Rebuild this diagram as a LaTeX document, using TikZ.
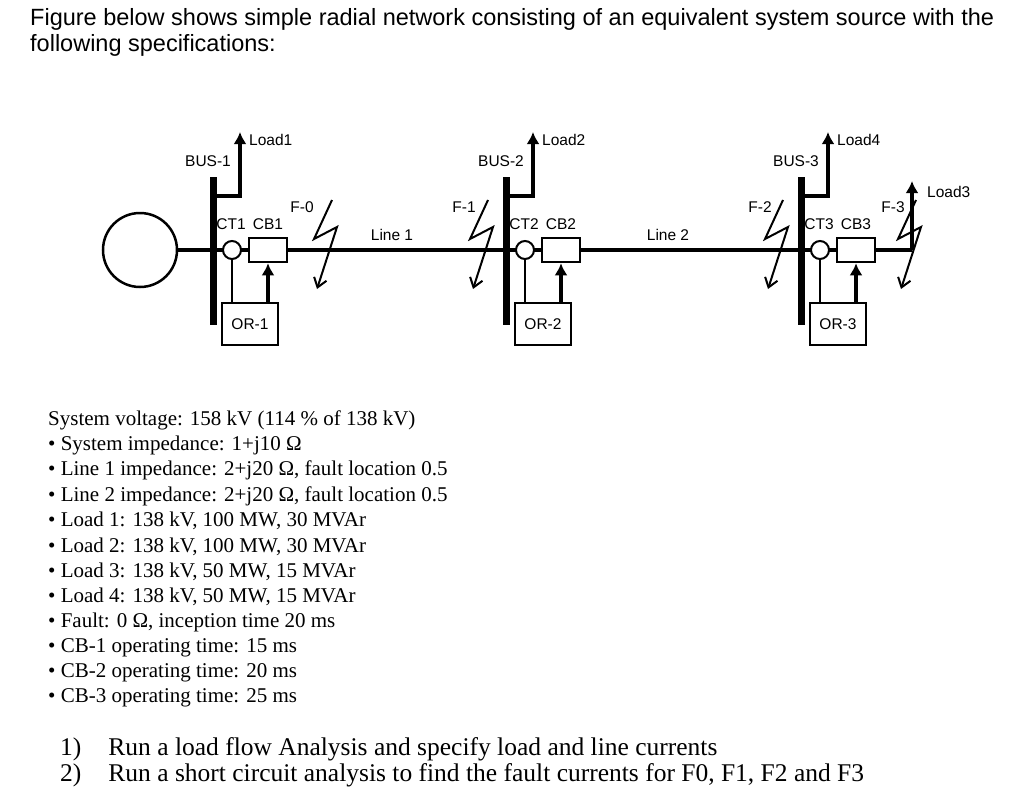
\documentclass[tikz,border=0pt]{standalone}
\usetikzlibrary{arrows.meta}
\usepackage{fontspec}
\setmainfont{Liberation Serif}
\newfontfamily\sans{Liberation Sans}
\begin{document}
\begin{tikzpicture}[x=1pt,y=-1pt,
  wire/.style={line width=3.5pt},
  cwire/.style={line width=2pt},
  lbl/.style={font=\sans\fontsize{15.5}{15.5}\selectfont,inner sep=0pt},
  bus/.style={line width=7pt},
  box/.style={draw,line width=2.5pt,minimum width=56pt,minimum height=42pt,font=\sans\fontsize{15.5}{15.5}\selectfont},
  cb/.style={draw,line width=2.5pt,minimum width=38pt,minimum height=24pt,inner sep=0pt},
  ct/.style={draw,circle,line width=2pt,minimum size=18pt,inner sep=0pt},
  tip/.style={-{Latex[length=12pt,width=13pt]}},
  ftip/.style={-{Straight Barb[length=9pt,width=13pt]},line width=2pt},
  item/.style={anchor=west,inner sep=0pt,font=\fontsize{21}{21}\selectfont}]
\useasboundingbox (0,0) rectangle (1009,795);
\node[anchor=west,inner sep=0pt,font=\sans\fontsize{23.5}{23.5}\selectfont] (h1) at (30,19) {Figure below shows simple radial network consisting of an equivalent system source with the};
\node[anchor=west,inner sep=0pt,font=\sans\fontsize{23.5}{23.5}\selectfont] (h2) at (30,45) {following specifications:};
% generator
\node[draw,circle,line width=2.5pt,minimum size=74pt] (gen) at (140,250) {};
\coordinate (lend) at (912,250);
\draw[wire] (gen.east) -- (lend);
% buses
\foreach \i/\bx/\ld in {1/213/1,2/506/2,3/801/4}{
  \draw[bus] (\bx,177) -- (\bx,325);
  \node[lbl] (busl\i) at (\bx-5,161) {BUS-\i};
  \coordinate (ls\i) at (\bx,196);
  \coordinate (lt\i) at (\bx+27,132);
  \draw[wire,tip] (ls\i) -| (lt\i);
  \node[lbl,anchor=west] (lname\i) at (\bx+36,140) {Load\ld};
  \node[ct,fill=white] (ct\i) at (\bx+19,250) {};
  \node[cb,fill=white] (cb\i) at (\bx+55,250) {};
  \node[box] (or\i) at (\bx+37,324) {OR-\i};
  \draw[cwire] (ct\i.south) -- (ct\i.south |- or\i.north);
  \draw[wire,tip] (or\i.north -| cb\i.south) -- (cb\i.south);
  \node[lbl] (ctl\i) at (\bx+18,224) {CT\i};
  \node[lbl] (cbl\i) at (\bx+55,224) {CB\i};
}
% faults
\foreach \n/\fx/\lx in {0/332/302,1/488/464,2/783/760,3/916/893}{
  \coordinate (fa\n) at (\fx,200);
  \coordinate (fb\n) at (\fx-18,239);
  \coordinate (fc\n) at (\fx+5,227);
  \coordinate (fd\n) at (\fx-15,289);
  \draw[ftip] (fa\n) -- (fb\n) -- (fc\n) -- (fd\n);
  \node[lbl] (fl\n) at (\lx,207) {F-\n};
}
\coordinate (l3t) at (912,181);
\draw[wire,tip] (lend) -- (l3t);
\node[lbl,anchor=west] (l3) at (927,192) {Load3};
\node[lbl] (line1) at (392,235) {Line 1};
\node[lbl] (line2) at (668,235) {Line 2};
% specs
\node[item] (s1) at (48,420) {System voltage: 158 kV (114 \% of 138 kV)};
\foreach \t [count=\k] in {System impedance: 1+j10 Ω,Line 1 impedance: 2+j20 Ω{,} fault location 0.5,Line 2 impedance: 2+j20 Ω{,} fault location 0.5,Load 1: 138 kV{,} 100 MW{,} 30 MVAr,Load 2: 138 kV{,} 100 MW{,} 30 MVAr,Load 3: 138 kV{,} 50 MW{,} 15 MVAr,Load 4: 138 kV{,} 50 MW{,} 15 MVAr,Fault: 0 Ω{,} inception time 20 ms,CB-1 operating time: 15 ms,CB-2 operating time: 20 ms,CB-3 operating time: 25 ms}{
  \node[item] (s\k x) at (48,420+25.3*\k) {• \t};
}
\node[item,font=\fontsize{25.5}{25.5}\selectfont] (q1) at (60,749) {1)\hspace{27pt}Run a load flow Analysis and specify load and line currents};
\node[item,font=\fontsize{25.5}{25.5}\selectfont] (q2) at (60,775) {2)\hspace{27pt}Run a short circuit analysis to find the fault currents for F0, F1, F2 and F3};
\end{tikzpicture}
\end{document}
